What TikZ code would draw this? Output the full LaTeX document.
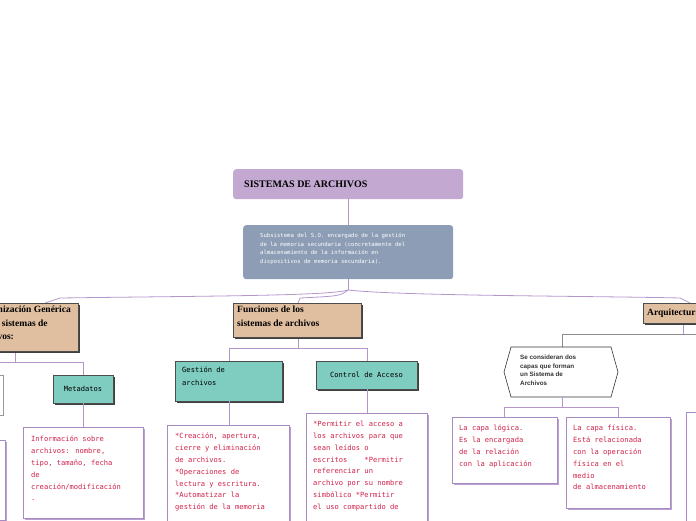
\documentclass[tikz,border=0pt]{standalone}
\usepackage{fontspec}
\setmainfont{Liberation Serif}
\newfontfamily\monof{DejaVu Sans Mono}
\newfontfamily\sansf{Liberation Sans}
\definecolor{lilac}{HTML}{C3A8D1}
\definecolor{slate}{HTML}{8C9DB5}
\definecolor{tan}{HTML}{E0BFA0}
\definecolor{teal}{HTML}{7ECDC0}
\definecolor{lin}{HTML}{B596CC}
\definecolor{redt}{HTML}{D0204A}
\definecolor{bord}{HTML}{A98BC4}
\begin{document}
\begin{tikzpicture}[x=1pt,y=-1pt,
 conn/.style={lin,line width=0.8pt},
 tanbox/.style={fill=tan,draw=black!70,line width=0.6pt},
 tealbox/.style={fill=teal,draw=black!70,line width=0.6pt},
 txtbox/.style={fill=white,draw=bord,line width=0.8pt},
 shad/.style={fill=black!75},
 pshad/.style={fill=bord!80},
 redtxt/.style={anchor=north west,align=left,text=redt,font=\monof\fontsize{7.1}{11.8}\selectfont,inner sep=0pt},
 lbl/.style={anchor=west,align=left,inner sep=0pt}]
\useasboundingbox (0,0) rectangle (696,520);
\clip (0,0) rectangle (696,520);
% connectors
\coordinate (br) at (348,290);
\draw[conn] (348,199) -- (348,225);
\draw[conn] (348,279) -- (br);
\draw[conn] (br) .. controls (330,296) and (200,296) .. (60,298) -- (45,303);
\draw[conn] (br) .. controls (340,296) .. (300,298) -- (298,303);
\draw[conn] (br) .. controls (400,296) and (600,296) .. (680,298) -- (690,303);
% title
\node[fill=lilac,rounded corners=3pt,minimum width=230,minimum height=30,anchor=north west,inner sep=0] (title) at (233,169) {};
\node[lbl,font=\bfseries\fontsize{10}{12}\selectfont] at (244,184.5) {SISTEMAS DE ARCHIVOS};
\node[fill=slate,rounded corners=3pt,minimum width=210,minimum height=54,anchor=north west,inner sep=0] (desc) at (243,225) {};
\node[anchor=north west,align=left,text=white,inner sep=0,font=\monof\fontsize{5.6}{8.6}\selectfont] at (260,233) {Subsistema del S.O. encargado de la gestión\\de la memoria secundaria (concretamente del\\almacenamiento de la información en\\dispositivos de memoria secundaria).};
% left branch
\draw[conn] (15,351) -- (15,362); \draw[conn] (0,362) -- (83,362) -- (83,375);
\fill[shad] (-78,305) rectangle (80,353);
\draw[tanbox] (-80,303) rectangle (78,351);
\node[anchor=north east,align=left,inner sep=0,font=\bfseries\fontsize{9.5}{13.5}\selectfont] at (71,306) {Organización Genérica\\de los sistemas de\\archivos:};
\draw[black!40,line width=0.6pt] (-20,375) rectangle (3,415);
\fill[pshad] (-18,442) rectangle (7,522);
\draw[txtbox] (-20,440) rectangle (5,520);
\fill[shad] (55,377) rectangle (115,405);
\draw[tealbox] (53,375) rectangle (113,403);
\node[font=\monof\fontsize{7.1}{9}\selectfont] (meta) at (83,389) {Metadatos};
\draw[conn] (83,403) -- (83,427);
\fill[pshad] (25,429) rectangle (145,520);
\draw[txtbox] (23,427) rectangle (143,518);
\node[redtxt] at (31,436) {Información sobre\\archivos: nombre,\\tipo, tamaño, fecha\\de\\creación/modificación\\.};
% middle branch
\draw[conn] (298,337) -- (298,348); \draw[conn] (229,361) -- (229,348) -- (367,348) -- (367,361);
\fill[shad] (235,305) rectangle (363,339);
\draw[tanbox] (233,303) rectangle (361,337);
\node[anchor=north west,align=left,inner sep=0,font=\bfseries\fontsize{9.5}{13.5}\selectfont] (fun) at (237,306) {Funciones de los\\sistemas de archivos};
\fill[shad] (177,363) rectangle (284,403);
\draw[tealbox] (175,361) rectangle (282,401);
\node[anchor=north west,align=left,inner sep=0,font=\monof\fontsize{7.1}{13}\selectfont] (ges) at (182,367) {Gestión de\\archivos};
\fill[shad] (318,363) rectangle (419,391);
\draw[tealbox] (316,361) rectangle (417,389);
\node[font=\monof\fontsize{7.1}{9}\selectfont] (ctl) at (366.5,375) {Control de Acceso};
\draw[conn] (229,401) -- (229,425);
\draw[conn] (367,389) -- (367,413);
\fill[pshad] (169,427) rectangle (291,522);
\draw[txtbox] (167,425) rectangle (289,522);
\node[redtxt] at (175,433) {*Creación, apertura,\\cierre y eliminación\\de archivos.\\*Operaciones de\\lectura y escritura.\\*Automatizar la\\gestión de la memoria};
\fill[pshad] (308,415) rectangle (429,522);
\draw[txtbox] (306,413) rectangle (427,522);
\node[redtxt] at (313,421) {*Permitir el acceso a\\los archivos para que\\sean leídos o\\escritos\ \ \ \ *Permitir\\referenciar un\\archivo por su nombre\\simbólico *Permitir\\el uso compartido de};
% right branch
\draw[conn] (683,323) -- (683,334);
\draw[black!45,line width=0.6pt] (562,347) -- (562,334) -- (696,334);
\fill[shad] (645,305) rectangle (700,325);
\draw[tanbox] (643,303) rectangle (720,323);
\node[anchor=west,inner sep=0,font=\bfseries\fontsize{9.5}{12}\selectfont] (arq) at (647,313) {Arquitectura};
\draw[black!80,line width=0.6pt] (511,347) -- (611,347) -- (618,372) -- (611,397) -- (511,397) -- (504,372) -- cycle;
\node[anchor=north west,align=left,inner sep=0,font=\sansf\bfseries\fontsize{6.3}{8.6}\selectfont,text=black!80] (hex) at (520,355) {Se consideran dos\\capas que forman\\un Sistema de\\Archivos};
\draw[conn] (562,397) -- (562,407);
\draw[conn] (504,417) -- (504,407) -- (618,407) -- (618,417);
\fill[pshad] (454,419) rectangle (559,485);
\draw[txtbox] (452,417) rectangle (557,483);
\node[redtxt] at (459,425) {La capa lógica.\\Es la encargada\\de la relación\\con la aplicación};
\fill[pshad] (568,419) rectangle (672,510);
\draw[txtbox] (566,417) rectangle (670,508);
\node[redtxt] at (573,425) {La capa física.\\Está relacionada\\con la operación\\física en el\\medio\\de almacenamiento};
\draw[txtbox] (686,412) rectangle (720,530);
\end{tikzpicture}
\end{document}
